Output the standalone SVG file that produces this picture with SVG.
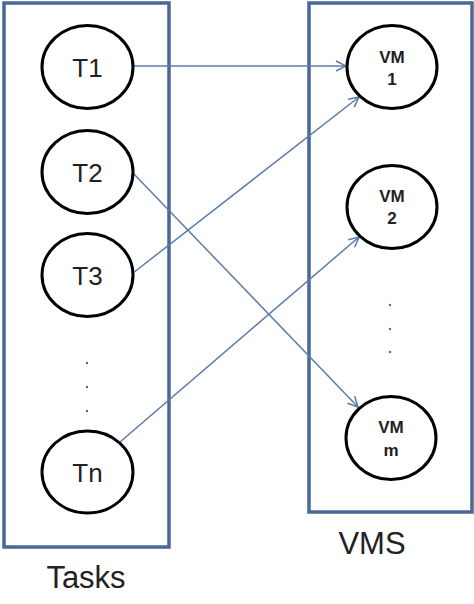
<svg xmlns="http://www.w3.org/2000/svg" width="474" height="604" viewBox="0 0 474 604">
<defs>
<style>
.box{fill:none;stroke:#4a6896;stroke-width:3.5}
.node{fill:#fff;stroke:#000;stroke-width:3}
.t{font-family:"Liberation Sans",Arial,sans-serif;font-size:26px;fill:#222;text-anchor:middle}
.vm{font-family:"Liberation Sans",Arial,sans-serif;font-size:17px;font-weight:bold;fill:#222;text-anchor:middle}
.lbl{font-family:"Liberation Sans",Arial,sans-serif;font-size:31px;fill:#222;text-anchor:middle}
.edge{fill:none;stroke:#5b7cab;stroke-width:1.5;marker-end:url(#arr)}
.dot{fill:#666}
</style>
<marker id="arr" viewBox="0 0 12 12" refX="11" refY="6" markerWidth="12" markerHeight="12" markerUnits="userSpaceOnUse" orient="auto">
<path d="M1,1 L11,6 L1,11" fill="none" stroke="#5b7cab" stroke-width="1.5"/>
</marker>
</defs>
<rect width="474" height="604" fill="#fff"/>
<g id="tasks-box"><rect class="box" x="4" y="3" width="165" height="544"/></g>
<g id="vms-box"><rect class="box" x="309" y="3" width="163" height="509"/></g>
<g id="connectors">
<line class="edge" x1="133" y1="66" x2="346" y2="66"/>
<line class="edge" x1="132" y1="172" x2="358" y2="407"/>
<line class="edge" x1="133" y1="273" x2="359" y2="97"/>
<line class="edge" x1="120" y1="442" x2="359" y2="237"/>
</g>
<g id="T1"><ellipse class="node" cx="87.5" cy="67" rx="45.5" ry="41.5"/><text class="t" x="87.5" y="76.5">T1</text></g>
<g id="T2"><ellipse class="node" cx="87.5" cy="172" rx="45.5" ry="41.5"/><text class="t" x="87.5" y="181.5">T2</text></g>
<g id="T3"><ellipse class="node" cx="87.5" cy="275" rx="45.5" ry="41.5"/><text class="t" x="87.5" y="284.5">T3</text></g>
<g id="Tn"><ellipse class="node" cx="87.5" cy="472" rx="45.5" ry="41"/><text class="t" x="87.5" y="481.5">Tn</text></g>
<g id="VM1"><ellipse class="node" cx="392" cy="67" rx="45" ry="41.5"/><text class="vm" x="392" y="63">VM</text><text class="vm" x="392" y="85">1</text></g>
<g id="VM2"><ellipse class="node" cx="392" cy="207" rx="45" ry="41.5"/><text class="vm" x="392" y="202">VM</text><text class="vm" x="392" y="224">2</text></g>
<g id="VMm"><ellipse class="node" cx="391" cy="438" rx="45" ry="41.5"/><text class="vm" x="391" y="433">VM</text><text class="vm" x="391" y="456">m</text></g>
<g id="dots-left"><circle class="dot" cx="87" cy="363" r="1.2"/><circle class="dot" cx="87" cy="387" r="1.2"/><circle class="dot" cx="87" cy="411" r="1.2"/></g>
<g id="dots-right"><circle class="dot" cx="390" cy="305" r="1.2"/><circle class="dot" cx="390" cy="329" r="1.2"/><circle class="dot" cx="390" cy="352" r="1.2"/></g>
<text id="label-vms" class="lbl" x="372" y="554">VMS</text>
<text id="label-tasks" class="lbl" x="86" y="588">Tasks</text>
</svg>
